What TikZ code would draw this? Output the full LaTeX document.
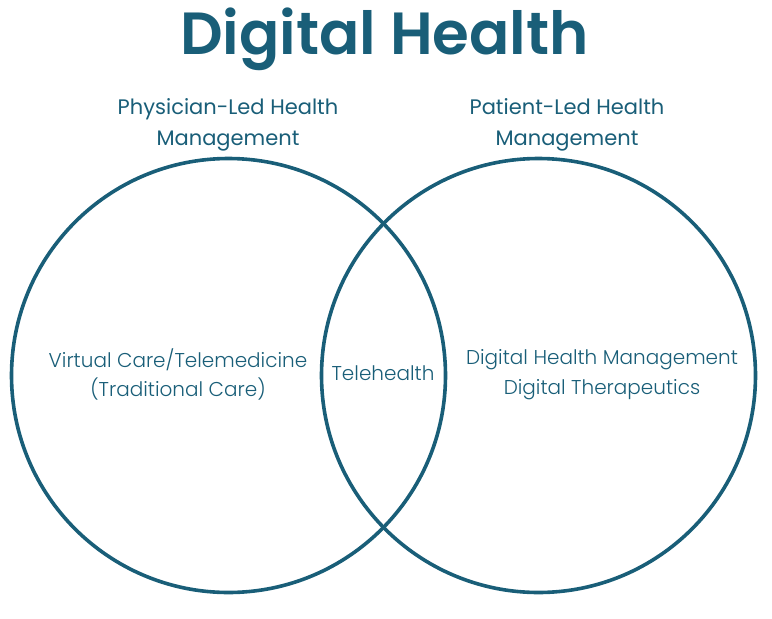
\documentclass[tikz,border=0pt]{standalone}
\usepackage{fontspec}
\setmainfont{Poppins}
\newfontfamily\titlefont{Poppins}[UprightFont=* SemiBold]
\newfontfamily\lightfont{Poppins}[UprightFont=* Light]
\definecolor{teal}{RGB}{25,94,120}

\begin{document}
\begin{tikzpicture}[x=1pt, y=-1pt,
    ring/.style={draw=teal, line width=3.6pt},
    head/.style={text=teal, align=center, font=\fontsize{21}{31}\selectfont},
    label/.style={text=teal, align=center, font=\lightfont\fontsize{20}{29.5}\selectfont}]
    \useasboundingbox (0, 0) rectangle (772, 619);

    \draw[ring] (228.5, 375.5) circle (217);
    \draw[ring] (538.5, 375.5) circle (217);

    \node[text=teal, font=\titlefont\fontsize{59.5}{60}\selectfont] (title) at (384.5, 39) {Digital Health};

    \node[head] (physician) at (228, 124.5) {Physician-Led Health\\Management};
    \node[head] (patient) at (567, 124.5) {Patient-Led Health\\Management};

    \node[label] (virtual) at (178, 374.5) {Virtual Care/Telemedicine\\(Traditional Care)};
    \node[label] (tele) at (383, 373) {Telehealth};
    \node[label] (digital) at (602, 374.5) {Digital Health Management\\Digital Therapeutics};
\end{tikzpicture}
\end{document}
